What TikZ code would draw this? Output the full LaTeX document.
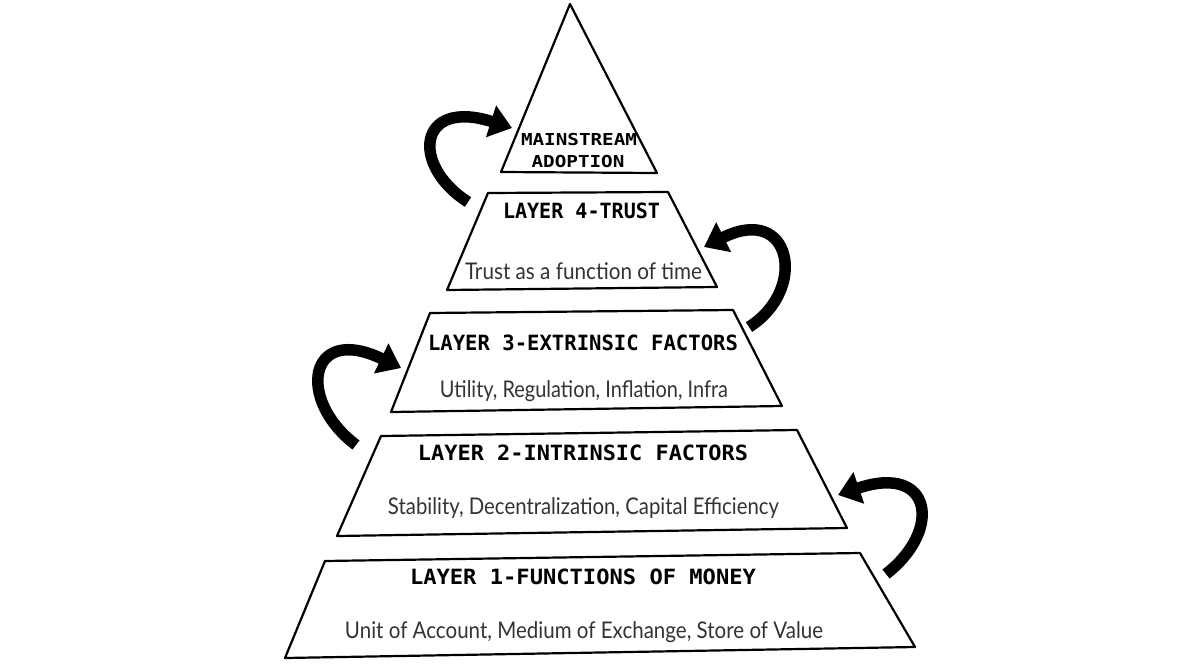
\documentclass[tikz,border=0pt]{standalone}
\usepackage{fontspec}
\usepackage{graphicx}
\usetikzlibrary{arrows.meta}
\newfontfamily\lcdfont{DejaVu Sans Mono}
\newfontfamily\bodyfont{Lato}
\newcommand{\fitw}[2]{\resizebox{#1}{\height}{#2}}
\begin{document}
\begin{tikzpicture}[x=1pt,y=-1pt,
  layer/.style={draw=black, line width=2.2pt, line join=round, fill=white},
  head/.style={anchor=base, inner sep=0pt, font=\lcdfont\bfseries\fontsize{21}{24}\selectfont},
  apextxt/.style={anchor=base, inner sep=0pt, font=\lcdfont\bfseries\fontsize{16.5}{19}\selectfont},
  body/.style={anchor=base, inner sep=0pt, text=black!80, font=\bodyfont\fontsize{23}{26}\selectfont},
  flow/.style={line width=11.5pt, -{Triangle[length=22pt,width=32pt]}}
]
\fill[white] (0,0) rectangle (1200,672);
\useasboundingbox (0,0) rectangle (1200,672);

% layers
\draw[layer] (570,4) -- (657,173) -- (501,172) -- cycle;
\draw[layer] (488,193) -- (668,192) -- (717,287) -- (447,290) -- cycle;
\draw[layer] (430,313) -- (733,310) -- (782,406) -- (391,412) -- cycle;
\draw[layer] (381,436) -- (797,430) -- (847,528) -- (337,536) -- cycle;
\draw[layer] (325,561) -- (860,553) -- (915,647) -- (285,658) -- cycle;

% texts
\node[apextxt] (t0a) at (579,145) {\fitw{116pt}{MAINSTREAM}};
\node[apextxt] (t0b) at (578,167) {\fitw{92.8pt}{ADOPTION}};

\node[head] (h4) at (581.5,218.5) {\fitw{157pt}{LAYER 4-TRUST}};
\node[body] (b4) at (583.5,279) {\fitw{237pt}{Trust as a function of time}};

\node[head] (h3) at (583,350.5) {\fitw{310pt}{LAYER 3-EXTRINSIC FACTORS}};
\node[body] (b3) at (584,397) {\fitw{288pt}{Utility, Regulation, Inflation, Infra}};

\node[head] (h2) at (583,460.5) {\fitw{330pt}{LAYER 2-INTRINSIC FACTORS}};
\node[body] (b2) at (583.5,514) {\fitw{391pt}{Stability, Decentralization, Capital Efficiency}};

\node[head] (h1) at (583,584.5) {\fitw{346pt}{LAYER 1-FUNCTIONS OF MONEY}};
\node[body] (b1) at (584,638) {\fitw{478pt}{Unit of Account, Medium of Exchange, Store of Value}};

% arrow ends
\coordinate (a1s) at (468,202);
\coordinate (a1e) at (512,128);
\coordinate (a2s) at (749,327);
\coordinate (a2e) at (704,247);
\coordinate (a3s) at (356,445);
\coordinate (a3e) at (401,368);
\coordinate (a4s) at (886,574);
\coordinate (a4e) at (838,495);

\draw[flow] (a1s) .. controls (410,165) and (418,98) .. (a1e);
\draw[flow] (a2s) .. controls (808,290) and (792,203) .. (a2e);
\draw[flow] (a3s) .. controls (296,400) and (308,323) .. (a3e);
\draw[flow] (a4s) .. controls (943,530) and (932,463) .. (a4e);
\end{tikzpicture}
\end{document}
